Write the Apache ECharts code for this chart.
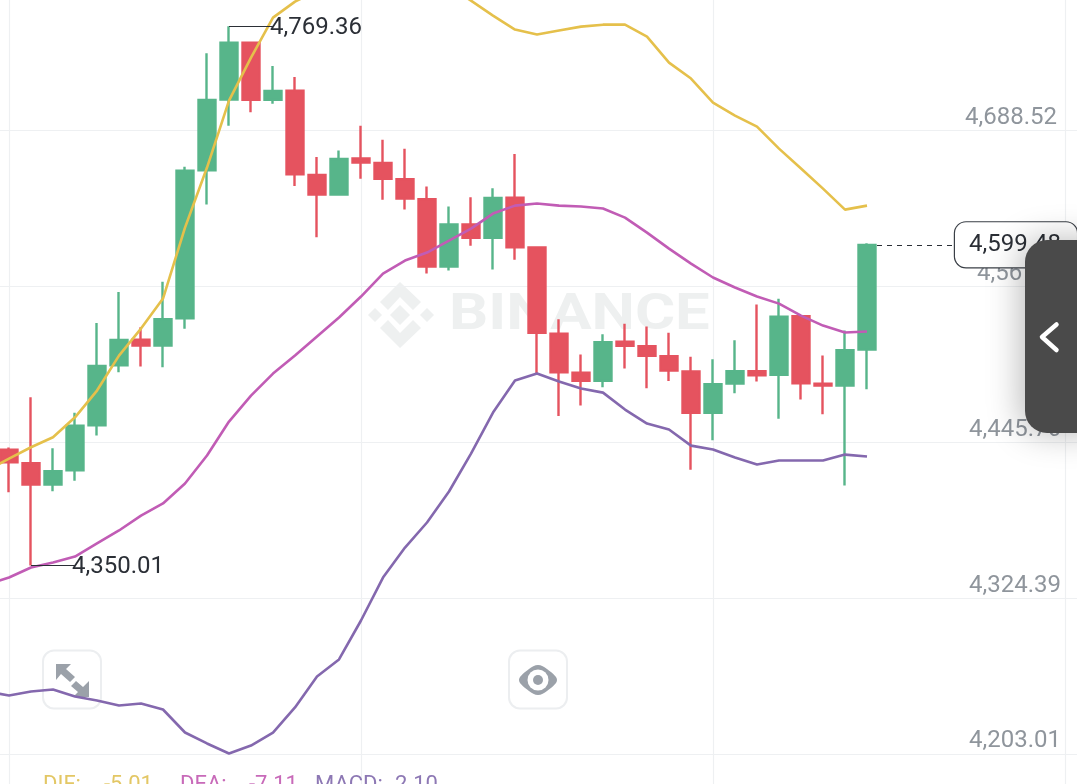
<!DOCTYPE html>
<html><head><meta charset="utf-8">
<style>html,body{margin:0;padding:0;background:#fff}#c{width:1077px;height:784px}</style>
<script src="https://cdn.jsdelivr.net/npm/echarts@6/dist/echarts.min.js"></script>
</head><body><div id="c"></div>
<script>
const categories = Array.from({length:51},(_,i)=>'K'+i);
const opens  = [4440.1,4429.5,4412.9,4424.0,4459.0,4505.7,4525.6,4521.0,4542.2,4657.3,4712.2,4756.5,4712.0,4719.2,4653.7,4638.4,4666.4,4663.0,4650.3,4634.7,4582.4,4615.1,4604.7,4636.0,4597.2,4530.3,4499.8,4493.5,4523.9,4520.4,4512.7,4500.8,4468.7,4491.4,4501.0,4498.2,4543.8,4491.4,4489.9,4517.9];
const closes = [4430.3,4412.9,4423.3,4458.6,4505.2,4525.4,4521.0,4541.4,4657.0,4712.0,4756.5,4712.0,4719.0,4654.2,4638.4,4666.1,4663.3,4650.6,4635.3,4582.4,4615.1,4604.7,4635.8,4597.4,4530.9,4500.2,4493.5,4523.6,4520.8,4513.1,4501.6,4468.7,4490.9,4501.0,4497.9,4543.5,4491.7,4489.9,4517.3,4599.3];
const lows   = [4406.9,4350.01,4407.7,4415.8,4451.0,4500.2,4504.7,4504.1,4534.0,4630.6,4692.0,4702.4,4709.1,4645.1,4605.2,4637.6,4650.6,4634.3,4626.7,4577.0,4579.3,4598.5,4580.1,4587.8,4499.5,4466.3,4474.3,4488.6,4503.1,4487.8,4493.5,4424.4,4447.4,4483.9,4493.0,4464.0,4479.0,4467.6,4412.1,4487.0];
const highs  = [4441.7,4480.8,4441.1,4468.7,4538.6,4562.7,4535.2,4570.7,4660.1,4748.2,4769.36,4756.5,4738.4,4729.9,4667.7,4672.6,4692.0,4681.1,4674.1,4644.6,4629.1,4636.3,4643.3,4670.0,4597.2,4541.4,4514.0,4529.8,4537.9,4535.8,4530.9,4512.2,4510.3,4525.1,4552.9,4557.3,4543.8,4513.2,4532.6,4600.5];
const upperBand = [4423.8,4433.1,4441.9,4449.7,4465.2,4486.0,4513.2,4534.2,4557.5,4612.7,4659.4,4711.5,4744.9,4776.0,4788.4,4797.0,4801.6,4806.3,4809.4,4811.0,4807.9,4800.1,4789.2,4777.5,4766.7,4762.8,4765.9,4769.0,4770.5,4770.5,4761.2,4741.0,4728.6,4709.9,4699.8,4691.2,4674.1,4658.6,4643.0,4626.7,4629.8];
const midBand   = [4335.2,4340.6,4348.4,4352.3,4356.9,4367.1,4377.2,4388.8,4398.2,4413.7,4435.5,4461.9,4482.1,4499.2,4513.2,4528.0,4542.8,4559.1,4577.0,4587.1,4593.3,4602.6,4611.9,4623.6,4629.8,4631.4,4629.8,4629.1,4627.5,4620.5,4608.8,4596.4,4584.7,4573.9,4566.1,4559.1,4553.6,4544.3,4536.5,4531.1,4531.9];
const lowerBand = [4252.0,4248.9,4252.0,4253.5,4248.1,4245.0,4241.1,4242.7,4238.0,4220.1,4211.6,4203.8,4210.0,4220.1,4239.6,4263.7,4276.9,4307.2,4340.6,4363.9,4383.4,4407.5,4437.0,4468.9,4493.8,4499.2,4493.0,4487.6,4484.4,4471.2,4460.3,4455.7,4443.2,4440.1,4433.9,4428.5,4431.6,4431.6,4431.6,4436.2,4434.7];
const yTicks = ['', '{d|4,203.01}','{a|4,324.39}','{a|4,445.76}','{c|4,567.14}','{b|4,688.52}',''];
const highLabel='4,769.36', lowLabel='4,350.01', lastLabel='4,599.48';
const highValue=4769.36, lowValue=4350.01, lastValue=4599.3;
const legendParts=[['DIF:','#e3c765',43],['-5.01','#e3c765',104],['DEA:','#c86ab9',180],['-7.11','#c86ab9',249],['MACD:','#8d78b4',315],['2.10','#8d78b4',395]];

const UP='#57b58a', DOWN='#e5535f', GRID='#eef0f2', LABEL='#8f959c', FONT='Roboto, sans-serif';
const candleData=['-'].concat(opens.map((o,i)=>[o,closes[i],lows[i],highs[i]]));
const leader={color:'#2b2f36',width:1.2,type:'solid'};
const annot=(t)=>({show:true,position:'end',distance:-3,formatter:'{t|'+t+'}',rich:{t:{color:'#2b2f36',fontSize:24,fontFamily:FONT,padding:[4,0,0,0]}}});
const line=(d,c)=>({type:'line',data:d,showSymbol:false,symbol:'none',smooth:false,z:4,animation:false,silent:true,lineStyle:{color:c,width:2.6},clip:true});
const tickStyle=(r,b)=>({color:LABEL,fontSize:24,fontFamily:FONT,padding:[0,r,b,0]});

const chart=echarts.init(document.getElementById('c'),null,{renderer:'canvas'});
const wm='#eef0f0';
const g=[];
// watermark
g.push({type:'text',x:449,y:291,scaleX:1.23,z:0,style:{text:'BINANCE',fill:wm,font:'bold 50px Roboto, sans-serif'}});
[[[400,305],[410,315],[400,325],[390,315]],[[375,308],[382,315],[375,322],[368,315]],[[427,308],[434,315],[427,322],[420,315]],
 [[380,302],[400,282],[421,302],[413,310],[400,297],[388,310]],[[380,328],[400,348],[421,328],[413,320],[400,333],[388,320]]]
 .forEach(p=>g.push({type:'polygon',z:0,shape:{points:p},style:{fill:wm}}));
// buttons
[[43],[509]].forEach(([x])=>g.push({type:'rect',z:1,shape:{x:x,y:650.5,width:58,height:58,r:11},style:{fill:'#fff',stroke:'#eceef0',lineWidth:2}}));
const ic='#9ba1a9';
g.push({type:'polygon',z:1,shape:{points:[[56,664],[71,664],[66,669],[75,677],[70,682],[61,674],[56,680]]},style:{fill:ic}});
g.push({type:'polygon',z:1,shape:{points:[[89,697],[73,697],[78,692],[71,686],[76,681],[83,687],[89,681]]},style:{fill:ic}});
g.push({type:'polygon',z:1,shape:{smooth:0.35,points:[[519,680],[529,669],[538,665],[547,669],[557,680],[547,691],[538,695],[529,691]]},style:{fill:ic}});
g.push({type:'circle',z:1,shape:{cx:538,cy:680,r:10.5},style:{fill:'#fff'}});
g.push({type:'circle',z:1,shape:{cx:538,cy:680,r:5},style:{fill:ic}});
// cut-off legend
legendParts.forEach(([t,c,x])=>g.push({type:'text',x:x,y:774,z:6,style:{text:t,fill:c,font:'22px Roboto, sans-serif'}}));
// side panel
g.push({type:'rect',zlevel:2,z:100,shape:{x:1025,y:240,width:90,height:193,r:22},style:{fill:'#4a4a4a',shadowBlur:34,shadowColor:'rgba(0,0,0,0.28)',shadowOffsetX:-4}});
g.push({type:'polyline',zlevel:2,z:101,shape:{points:[[1056.5,324.5],[1042,337],[1056.5,350]]},style:{stroke:'#fff',lineWidth:4.5,fill:null,lineCap:'round',lineJoin:'round'}});

chart.setOption({
  animation:false,
  backgroundColor:'#fff',
  grid:{left:-13,width:1100,top:-26,height:936.6,containLabel:false,show:false,outerBoundsMode:'none'},
  xAxis:{type:'category',data:categories,boundaryGap:false,
    axisLine:{show:false},axisTick:{show:false},axisLabel:{show:false},
    splitLine:{show:true,interval:(i)=>i%16===1,lineStyle:{color:GRID,width:1.2}}},
  yAxis:{type:'value',position:'right',min:4081.63,max:4809.9,interval:121.3775,scale:true,
    axisLine:{show:false},axisTick:{show:false},
    splitLine:{show:true,lineStyle:{color:GRID,width:1.2}},
    axisLabel:{inside:true,margin:18,verticalAlign:'bottom',color:LABEL,fontSize:24,fontFamily:FONT,lineHeight:24,
      showMinLabel:true,showMaxLabel:true,
      rich:{a:tickStyle(8,0),b:tickStyle(12,0),c:tickStyle(0,0),d:tickStyle(8,3)},
      formatter:(v)=>yTicks[Math.round((v-4081.63)/121.3775)]}},
  graphic:{elements:g},
  series:[
    {type:'candlestick',data:candleData,barWidth:17.5,z:3,silent:true,
     itemStyle:{color:UP,color0:DOWN,borderColor:UP,borderColor0:DOWN,borderWidth:2.4},
     markLine:{silent:true,symbol:'none',animation:false,z:5,precision:2,
       data:[
        [{coord:[11,highValue],lineStyle:leader,label:annot(highLabel)},{coord:[13,highValue]}],
        [{coord:[2,lowValue],lineStyle:leader,label:annot(lowLabel)},{coord:[4,lowValue]}]
       ]}},
    {type:'line',data:[],z:2,silent:true,
     markLine:{silent:true,symbol:'none',animation:false,z:2,precision:2,
       data:[
        [{coord:[40,lastValue],lineStyle:{color:'#2b2f36',width:1.2,type:[5,5]},
          label:{show:true,position:'end',distance:0,formatter:lastLabel,color:'#2b2f36',fontSize:24,fontFamily:FONT,
                 backgroundColor:'#fff',borderColor:'#3a3f46',borderWidth:1.2,borderRadius:11,padding:[13,16,8,14]}},
         {coord:[44,lastValue]}]
       ]}},
    line(upperBand,'#e5c04b'),
    line(midBand,'#c15cb5'),
    line(lowerBand,'#8468ae')
  ]
});
</script></body></html>
